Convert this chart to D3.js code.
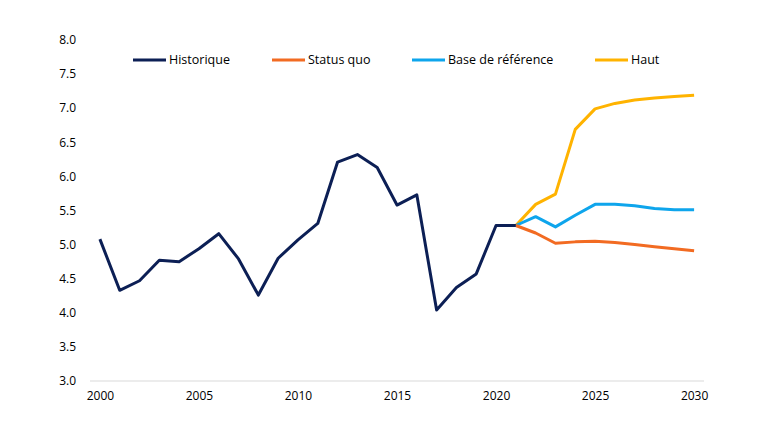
<!DOCTYPE html>
<html>
<head>
<meta charset="utf-8">
<script src="https://cdn.jsdelivr.net/npm/d3@7"></script>
<style>
  body { margin: 0; background: #fff; }
  text { font-family: "Open Sans", "DejaVu Sans", sans-serif; fill: #000; }
</style>
</head>
<body>
<svg id="drawing_region"></svg>
<script>
var Years = d3.range(2000, 2031);
var XTicks = [2000, 2005, 2010, 2015, 2020, 2025, 2030];
var YTicks = [3.0, 3.5, 4.0, 4.5, 5.0, 5.5, 6.0, 6.5, 7.0, 7.5, 8.0];

// 2000-2021
var Historique = [5.08, 4.33, 4.47, 4.77, 4.75, 4.94, 5.16, 4.79, 4.26, 4.80, 5.07,
    5.31, 6.21, 6.32, 6.13, 5.58, 5.73, 4.04, 4.37, 4.57, 5.28, 5.28];
// 2021-2030
var StatusQuo = [5.28, 5.17, 5.02, 5.04, 5.05, 5.03, 5.00, 4.97, 4.94, 4.91];
var BaseRef = [5.28, 5.41, 5.26, 5.43, 5.59, 5.59, 5.57, 5.53, 5.51, 5.51];
var Haut = [5.28, 5.59, 5.74, 6.69, 6.99, 7.07, 7.12, 7.15, 7.17, 7.19];

var SeriesNames = ['Historique', 'Status quo', 'Base de référence', 'Haut'];
var SeriesColors = ['#0c1f55', '#f26b22', '#0ea5ec', '#ffb300'];

var Config = {
    parent: '#drawing_region',
    width: 780,
    height: 439
};

const svg = d3.select(Config.parent)
    .attr('width', Config.width)
    .attr('height', Config.height);

const xscale = d3.scalePoint()
    .domain(Years)
    .range([90, 704])
    .padding(0.5);

const yscale = d3.scaleLinear()
    .domain([3, 8])
    .range([381, 40]);

// y labels, no axis line
svg.append('g')
    .selectAll('text')
    .data(YTicks)
    .join('text')
    .attr('x', 76)
    .attr('y', d => yscale(d))
    .attr('dy', '0.35em')
    .attr('text-anchor', 'end')
    .attr('font-size', 12)
    .text(d => d.toFixed(1));

// bottom axis line
svg.append('line')
    .attr('x1', 90).attr('x2', 704)
    .attr('y1', yscale(3)).attr('y2', yscale(3))
    .attr('stroke', '#d9d9d9')
    .attr('stroke-width', 1);

const xaxis = d3.axisBottom(xscale)
    .tickValues(XTicks)
    .tickSize(0)
    .tickPadding(10);

svg.append('g')
    .attr('transform', `translate(0, ${yscale(3)})`)
    .call(xaxis)
    .call(g => g.select('.domain').remove())
    .call(g => g.selectAll('text')
        .attr('font-size', 12)
        .attr('font-family', '"Open Sans", "DejaVu Sans", sans-serif')
        .attr('fill', '#000'));

const line = d3.line()
    .x(d => xscale(d.x))
    .y(d => yscale(d.y));

var series = [
    { values: Historique, start: 2000 },
    { values: StatusQuo, start: 2021 },
    { values: BaseRef, start: 2021 },
    { values: Haut, start: 2021 }
];

// draw projections first (reverse so historique stays on top)
[3, 2, 1, 0].forEach(i => {
    const s = series[i];
    const pts = s.values.map((v, j) => ({ x: s.start + j, y: v }));
    svg.append('path')
        .datum(pts)
        .attr('d', line)
        .attr('fill', 'none')
        .attr('stroke', SeriesColors[i])
        .attr('stroke-width', 3)
        .attr('stroke-linejoin', 'round');
});

// legend
var legendX = [133, 272, 412, 595];
const legend = svg.append('g')
    .selectAll('g')
    .data(SeriesNames)
    .join('g')
    .attr('transform', (d, i) => `translate(${legendX[i]}, 60)`);

legend.append('line')
    .attr('x1', 0).attr('x2', 33)
    .attr('y1', 0).attr('y2', 0)
    .attr('stroke', (d, i) => SeriesColors[i])
    .attr('stroke-width', 3);

legend.append('text')
    .attr('x', 36)
    .attr('dy', '0.35em')
    .attr('font-size', 12.5)
    .text(d => d);
</script>
</body>
</html>
